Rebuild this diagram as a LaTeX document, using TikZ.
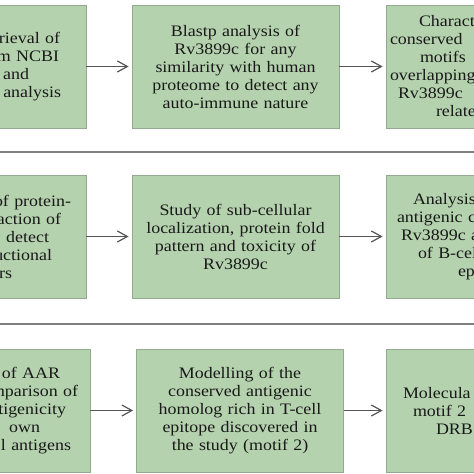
\documentclass[tikz,border=0pt]{standalone}
\usepackage{fontspec}
\setmainfont{Liberation Serif}[FakeStretch=1.12]
\usetikzlibrary{arrows.meta}
\setlength{\parindent}{0pt}

\definecolor{boxfill}{HTML}{B5D2AE}
\definecolor{boxline}{HTML}{94AA90}
\definecolor{arrowgray}{HTML}{555555}
\definecolor{rulegray}{HTML}{7F7F7F}

\newcommand{\boxfont}{\fontsize{16bp}{18bp}\selectfont}
\newcommand{\shiftby}[1]{\rule{#1bp}{0pt}}

\begin{document}
\begin{tikzpicture}[x=1bp, y=-1bp,
        stepbox/.style={draw=boxline, fill=boxfill, line width=0.8bp, minimum width=207bp, minimum height=123bp,
            inner sep=0pt, text width=199bp, font=\boxfont, text=black!90, align=center},
        leftcut/.style={stepbox, align=right},
        rightcut/.style={stepbox, align=left},
        flow/.style={-{Straight Barb[length=10bp,width=11bp]}, line width=1.2bp, draw=arrowgray, shorten >=3bp}]

        \useasboundingbox (0,0) rectangle (474,474);
        \clip (0,0) rectangle (474,474);

        % separators
        \draw[rulegray, line width=1.5bp] (0,152) -- (474,152);
        \draw[rulegray, line width=1.5bp] (0,324) -- (474,324);

        % row 1
        \node[leftcut] (retrieval) at (-17.5,66.5) {rieval of\shiftby{22}\\ m NCBI\shiftby{23}\\ and\shiftby{53}\\ analysis\shiftby{21}};
        \node[stepbox] (blastp) at (235.5,66.5) {Blastp analysis of\\ Rv3899c for any\\ similarity with human\\ proteome to detect any\\ auto-immune nature};
        \node[rightcut] (motifs) at (489.5,66.5) {\shiftby{29}Charact\\ conserved\\ \shiftby{30}motifs\\ overlapping\\ \shiftby{8}Rv3899c\\ \shiftby{46}related};

        % row 2
        \node[leftcut] (interaction) at (-17.5,236.5) {of protein-\shiftby{11}\\ action of\shiftby{21}\\ detect\shiftby{33}\\ uctional\shiftby{30}\\ rs\shiftby{70}};
        \node[stepbox] (localization) at (235.5,236.5) {Study of sub-cellular\\ localization, protein fold\\ pattern and toxicity of\\ Rv3899c};
        \node[rightcut] (antigenic) at (489.5,236.5) {\shiftby{23}Analysis\\ \shiftby{7}antigenic c\\ \shiftby{11}Rv3899c a\\ \shiftby{28}of B-cell\\ \shiftby{68}ep};

        % row 3
        \node[leftcut] (aar) at (-13.5,410.5) {of AAR\shiftby{26}\\ mparison of\shiftby{8}\\ tigenicity\shiftby{20}\\ own\shiftby{46}\\ l antigens\shiftby{15}};
        \node[stepbox] (modelling) at (240,410.5) {Modelling of the\\ conserved antigenic\\ homolog rich in T-cell\\ epitope discovered in\\ the study (motif 2)};
        \node[rightcut] (docking) at (489.5,410.5) {\shiftby{13}Molecula\\ \shiftby{23}motif 2\\ \shiftby{46}DRB};

        % arrows
        \draw[flow] (retrieval.east) -- (blastp.west);
        \draw[flow] (blastp.east) -- (motifs.west);
        \draw[flow] (interaction.east) -- (localization.west);
        \draw[flow] (localization.east) -- (antigenic.west);
        \draw[flow] (aar.east) -- (modelling.west);
        \draw[flow] (modelling.east) -- (docking.west);
    \end{tikzpicture}
\end{document}
